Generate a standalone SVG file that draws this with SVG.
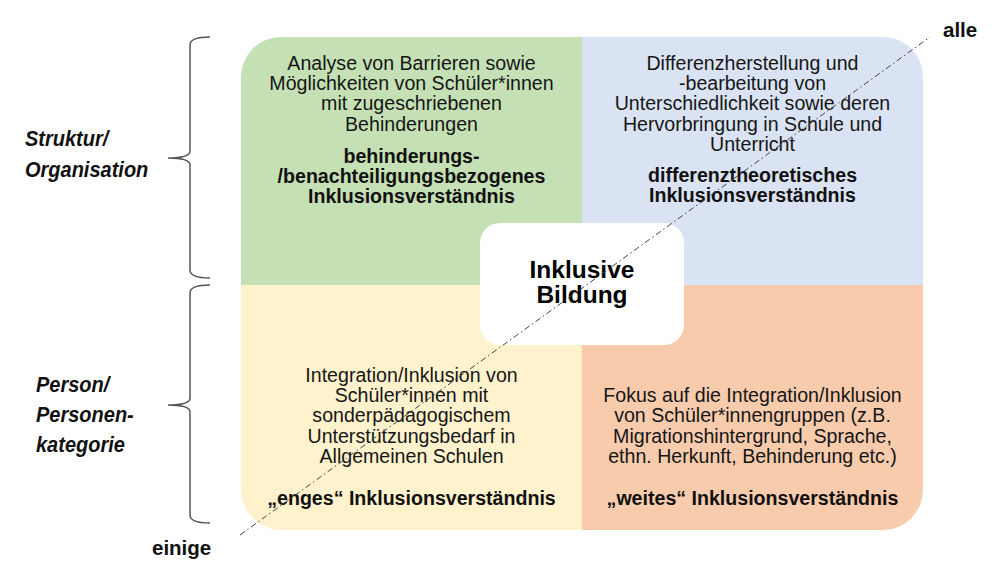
<svg xmlns="http://www.w3.org/2000/svg" width="1000" height="572" viewBox="0 0 1000 572">
<style>
.body{font-family:"Liberation Sans",Arial,sans-serif;font-size:19.6px;fill:#161616;text-anchor:middle}
.bold{font-family:"Liberation Sans",Arial,sans-serif;font-size:19.6px;font-weight:bold;fill:#111;text-anchor:middle}
.lab{font-family:"Liberation Sans",Arial,sans-serif;font-size:20px;font-weight:bold;font-style:italic;fill:#111}
.axis{font-family:"Liberation Sans",Arial,sans-serif;font-size:20.5px;font-weight:bold;fill:#111}
.brace{fill:none;stroke:#555;stroke-width:1.5}
.diag{fill:none;stroke:#444;stroke-width:1;stroke-dasharray:6 3 1.5 3}
</style>
<rect width="1000" height="572" fill="#fff"/>
<g id="q-top-left">
<path d="M241,285 L241,77 A40,40 0 0 1 281,37 L582,37 L582,285 Z" fill="#C5E0B4"/>
<text class="body" x="411.5" y="70">Analyse von Barrieren sowie</text>
<text class="body" x="411.5" y="90">Möglichkeiten von Schüler*innen</text>
<text class="body" x="411.5" y="110">mit zugeschriebenen</text>
<text class="body" x="411.5" y="131">Behinderungen</text>
<text class="bold" x="411.5" y="163">behinderungs-</text>
<text class="bold" x="411.5" y="183">/benachteiligungsbezogenes</text>
<text class="bold" x="411.5" y="203">Inklusionsverständnis</text>
</g>
<g id="q-top-right">
<path d="M582,37 L883,37 A40,40 0 0 1 923,77 L923,285 L582,285 Z" fill="#DAE3F3"/>
<text class="body" x="752.5" y="70">Differenzherstellung und</text>
<text class="body" x="752.5" y="90">-bearbeitung von</text>
<text class="body" x="752.5" y="110">Unterschiedlichkeit sowie deren</text>
<text class="body" x="752.5" y="131">Hervorbringung in Schule und</text>
<text class="body" x="752.5" y="151">Unterricht</text>
<text class="bold" x="752.5" y="182">differenztheoretisches</text>
<text class="bold" x="752.5" y="202">Inklusionsverständnis</text>
</g>
<g id="q-bottom-left">
<path d="M241,285 L582,285 L582,530 L281,530 A40,40 0 0 1 241,490 Z" fill="#FFF2CC"/>
<text class="body" x="411.5" y="382">Integration/Inklusion von</text>
<text class="body" x="411.5" y="402">Schüler*innen mit</text>
<text class="body" x="411.5" y="422">sonderpädagogischem</text>
<text class="body" x="411.5" y="443">Unterstützungsbedarf in</text>
<text class="body" x="411.5" y="463">Allgemeinen Schulen</text>
<text class="bold" x="411.5" y="505">„enges“ Inklusionsverständnis</text>
</g>
<g id="q-bottom-right">
<path d="M582,285 L923,285 L923,490 A40,40 0 0 1 883,530 L582,530 Z" fill="#F8CBAD"/>
<text class="body" x="752.5" y="402">Fokus auf die Integration/Inklusion</text>
<text class="body" x="752.5" y="422">von Schüler*innengruppen (z.B.</text>
<text class="body" x="752.5" y="443">Migrationshintergrund, Sprache,</text>
<text class="body" x="752.5" y="463">ethn. Herkunft, Behinderung etc.)</text>
<text class="bold" x="752.5" y="505">„weites“ Inklusionsverständnis</text>
</g>
<g id="center">
<rect x="480" y="223" width="204" height="122" rx="20" ry="20" fill="#fff"/>
<text class="bold" x="582" y="278" style="font-size:24.5px;fill:#000">Inklusive</text>
<text class="bold" x="582" y="303" style="font-size:24.5px;fill:#000">Bildung</text>
</g>
<g id="label-struktur">
<path class="brace" d="M210,37 Q190,37 190,45 L190,151 Q190,158 168,158 Q190,158 190,165 L190,270 Q190,278 210,278"/>
<text class="lab" transform="translate(25,146) scale(1,1.1)">Struktur/</text>
<text class="lab" transform="translate(25,177) scale(1,1.1)">Organisation</text>
</g>
<g id="label-person">
<path class="brace" d="M210,285 Q190,285 190,293 L190,398 Q190,405 168,405 Q190,405 190,412 L190,515 Q190,523 210,523"/>
<text class="lab" transform="translate(36,392) scale(1,1.1)">Person/</text>
<text class="lab" transform="translate(36,422) scale(1,1.1)">Personen-</text>
<text class="lab" transform="translate(36,452) scale(1,1.1)">kategorie</text>
</g>
<g id="connectors">
<line class="diag" x1="240" y1="535" x2="930" y2="37"/>
</g>
<g id="axis-labels">
<text class="axis" x="943" y="37">alle</text>
<text class="axis" x="152" y="555">einige</text>
</g>
</svg>
